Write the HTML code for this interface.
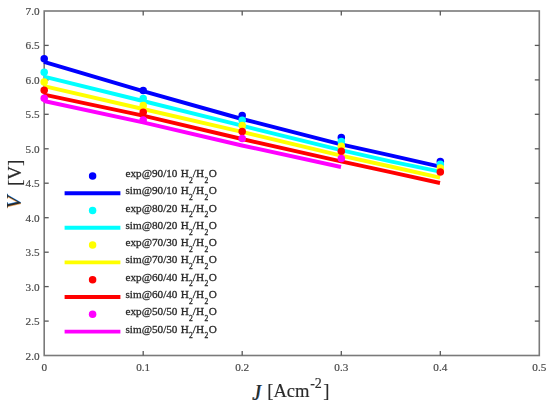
<!DOCTYPE html><html><head><meta charset="utf-8"><style>
html,body{margin:0;padding:0;background:#fff;width:550px;height:405px;overflow:hidden}
svg{display:block;position:absolute;left:0;top:0}
text{font-family:"Liberation Serif","Times New Roman",serif;stroke:#2a2a2a;stroke-width:0.3px;paint-order:stroke}
</style></head><body>
<svg width="550" height="405" viewBox="0 0 550 405">
<rect x="44.2" y="11.0" width="495.1" height="344.5" fill="none" stroke="#7a7a7a" stroke-width="1.6"/>
<line x1="143.2" y1="355.5" x2="143.2" y2="351.0" stroke="#585858" stroke-width="1.3"/>
<line x1="143.2" y1="11.0" x2="143.2" y2="15.5" stroke="#585858" stroke-width="1.3"/>
<line x1="242.2" y1="355.5" x2="242.2" y2="351.0" stroke="#585858" stroke-width="1.3"/>
<line x1="242.2" y1="11.0" x2="242.2" y2="15.5" stroke="#585858" stroke-width="1.3"/>
<line x1="341.3" y1="355.5" x2="341.3" y2="351.0" stroke="#585858" stroke-width="1.3"/>
<line x1="341.3" y1="11.0" x2="341.3" y2="15.5" stroke="#585858" stroke-width="1.3"/>
<line x1="440.3" y1="355.5" x2="440.3" y2="351.0" stroke="#585858" stroke-width="1.3"/>
<line x1="440.3" y1="11.0" x2="440.3" y2="15.5" stroke="#585858" stroke-width="1.3"/>
<line x1="44.2" y1="321.1" x2="48.7" y2="321.1" stroke="#585858" stroke-width="1.3"/>
<line x1="539.3" y1="321.1" x2="534.8" y2="321.1" stroke="#585858" stroke-width="1.3"/>
<line x1="44.2" y1="286.6" x2="48.7" y2="286.6" stroke="#585858" stroke-width="1.3"/>
<line x1="539.3" y1="286.6" x2="534.8" y2="286.6" stroke="#585858" stroke-width="1.3"/>
<line x1="44.2" y1="252.2" x2="48.7" y2="252.2" stroke="#585858" stroke-width="1.3"/>
<line x1="539.3" y1="252.2" x2="534.8" y2="252.2" stroke="#585858" stroke-width="1.3"/>
<line x1="44.2" y1="217.7" x2="48.7" y2="217.7" stroke="#585858" stroke-width="1.3"/>
<line x1="539.3" y1="217.7" x2="534.8" y2="217.7" stroke="#585858" stroke-width="1.3"/>
<line x1="44.2" y1="183.2" x2="48.7" y2="183.2" stroke="#585858" stroke-width="1.3"/>
<line x1="539.3" y1="183.2" x2="534.8" y2="183.2" stroke="#585858" stroke-width="1.3"/>
<line x1="44.2" y1="148.8" x2="48.7" y2="148.8" stroke="#585858" stroke-width="1.3"/>
<line x1="539.3" y1="148.8" x2="534.8" y2="148.8" stroke="#585858" stroke-width="1.3"/>
<line x1="44.2" y1="114.3" x2="48.7" y2="114.3" stroke="#585858" stroke-width="1.3"/>
<line x1="539.3" y1="114.3" x2="534.8" y2="114.3" stroke="#585858" stroke-width="1.3"/>
<line x1="44.2" y1="79.9" x2="48.7" y2="79.9" stroke="#585858" stroke-width="1.3"/>
<line x1="539.3" y1="79.9" x2="534.8" y2="79.9" stroke="#585858" stroke-width="1.3"/>
<line x1="44.2" y1="45.4" x2="48.7" y2="45.4" stroke="#585858" stroke-width="1.3"/>
<line x1="539.3" y1="45.4" x2="534.8" y2="45.4" stroke="#585858" stroke-width="1.3"/>
<circle cx="44.2" cy="58.7" r="3.75" fill="#0000ff"/>
<circle cx="143.2" cy="90.4" r="3.75" fill="#0000ff"/>
<circle cx="242.2" cy="115.5" r="3.75" fill="#0000ff"/>
<circle cx="341.3" cy="137.5" r="3.75" fill="#0000ff"/>
<circle cx="440.3" cy="161.5" r="3.75" fill="#0000ff"/>
<polyline points="44,61.9 143,91.2 242,119 341,144.3 390.5,155.4 440,166.6" fill="none" stroke="#0000ff" stroke-width="3.9" stroke-linejoin="round"/>
<circle cx="44.2" cy="72.2" r="3.75" fill="#00ffff"/>
<circle cx="143.2" cy="98.4" r="3.75" fill="#00ffff"/>
<circle cx="242.2" cy="120.2" r="3.75" fill="#00ffff"/>
<circle cx="341.3" cy="141.6" r="3.75" fill="#00ffff"/>
<circle cx="440.3" cy="164.3" r="3.75" fill="#00ffff"/>
<polyline points="44,76.6 143,101 242,125.7 341,150.1 390.5,161.3 440,171.6" fill="none" stroke="#00ffff" stroke-width="3.9" stroke-linejoin="round"/>
<circle cx="44.2" cy="81.9" r="3.75" fill="#ffff00"/>
<circle cx="143.2" cy="105.6" r="3.75" fill="#ffff00"/>
<circle cx="242.2" cy="125.6" r="3.75" fill="#ffff00"/>
<circle cx="341.3" cy="146.3" r="3.75" fill="#ffff00"/>
<circle cx="440.3" cy="168" r="3.75" fill="#ffff00"/>
<polyline points="44,86.1 143,109 242,131.8 341,155.6 390.5,166.5 440,177.6" fill="none" stroke="#ffff00" stroke-width="3.9" stroke-linejoin="round"/>
<circle cx="44.2" cy="90.2" r="3.75" fill="#ff0000"/>
<circle cx="143.2" cy="112.2" r="3.75" fill="#ff0000"/>
<circle cx="242.2" cy="131.4" r="3.75" fill="#ff0000"/>
<circle cx="341.3" cy="151.2" r="3.75" fill="#ff0000"/>
<circle cx="440.3" cy="171.9" r="3.75" fill="#ff0000"/>
<polyline points="44,94.6 143,115.7 242,139 341,161.3 390.5,172.2 440,183" fill="none" stroke="#ff0000" stroke-width="3.9" stroke-linejoin="round"/>
<circle cx="44.2" cy="98.2" r="3.75" fill="#ff00ff"/>
<circle cx="143.2" cy="120" r="3.75" fill="#ff00ff"/>
<circle cx="242.2" cy="138.6" r="3.75" fill="#ff00ff"/>
<circle cx="341.3" cy="158.4" r="3.75" fill="#ff00ff"/>
<polyline points="44,101 143,122.3 242,145.5 341,167" fill="none" stroke="#ff00ff" stroke-width="3.9" stroke-linejoin="round"/>
<circle cx="92.6" cy="175.9" r="3.75" fill="#0000ff"/>
<line x1="64.6" y1="193.2" x2="120.4" y2="193.2" stroke="#0000ff" stroke-width="3.9"/>
<text x="125.5" y="176.9" font-size="11.2" fill="#2a2a2a">exp@90/10<tspan x="180.8">H</tspan><tspan x="188.9" font-size="7.6" dy="5.7">2</tspan><tspan x="192.8" dy="-5.7">/H</tspan><tspan x="204.4" font-size="7.6" dy="5.7">2</tspan><tspan x="208.8" dy="-5.7">O</tspan></text>
<text x="125.5" y="194.2" font-size="11.2" fill="#2a2a2a">sim@90/10<tspan x="180.8">H</tspan><tspan x="188.9" font-size="7.6" dy="5.7">2</tspan><tspan x="192.8" dy="-5.7">/H</tspan><tspan x="204.4" font-size="7.6" dy="5.7">2</tspan><tspan x="208.8" dy="-5.7">O</tspan></text>
<circle cx="92.6" cy="210.5" r="3.75" fill="#00ffff"/>
<line x1="64.6" y1="227.8" x2="120.4" y2="227.8" stroke="#00ffff" stroke-width="3.9"/>
<text x="125.5" y="211.5" font-size="11.2" fill="#2a2a2a">exp@80/20<tspan x="180.8">H</tspan><tspan x="188.9" font-size="7.6" dy="5.7">2</tspan><tspan x="192.8" dy="-5.7">/H</tspan><tspan x="204.4" font-size="7.6" dy="5.7">2</tspan><tspan x="208.8" dy="-5.7">O</tspan></text>
<text x="125.5" y="228.8" font-size="11.2" fill="#2a2a2a">sim@80/20<tspan x="180.8">H</tspan><tspan x="188.9" font-size="7.6" dy="5.7">2</tspan><tspan x="192.8" dy="-5.7">/H</tspan><tspan x="204.4" font-size="7.6" dy="5.7">2</tspan><tspan x="208.8" dy="-5.7">O</tspan></text>
<circle cx="92.6" cy="245.1" r="3.75" fill="#ffff00"/>
<line x1="64.6" y1="262.4" x2="120.4" y2="262.4" stroke="#ffff00" stroke-width="3.9"/>
<text x="125.5" y="246.1" font-size="11.2" fill="#2a2a2a">exp@70/30<tspan x="180.8">H</tspan><tspan x="188.9" font-size="7.6" dy="5.7">2</tspan><tspan x="192.8" dy="-5.7">/H</tspan><tspan x="204.4" font-size="7.6" dy="5.7">2</tspan><tspan x="208.8" dy="-5.7">O</tspan></text>
<text x="125.5" y="263.4" font-size="11.2" fill="#2a2a2a">sim@70/30<tspan x="180.8">H</tspan><tspan x="188.9" font-size="7.6" dy="5.7">2</tspan><tspan x="192.8" dy="-5.7">/H</tspan><tspan x="204.4" font-size="7.6" dy="5.7">2</tspan><tspan x="208.8" dy="-5.7">O</tspan></text>
<circle cx="92.6" cy="279.7" r="3.75" fill="#ff0000"/>
<line x1="64.6" y1="297.0" x2="120.4" y2="297.0" stroke="#ff0000" stroke-width="3.9"/>
<text x="125.5" y="280.7" font-size="11.2" fill="#2a2a2a">exp@60/40<tspan x="180.8">H</tspan><tspan x="188.9" font-size="7.6" dy="5.7">2</tspan><tspan x="192.8" dy="-5.7">/H</tspan><tspan x="204.4" font-size="7.6" dy="5.7">2</tspan><tspan x="208.8" dy="-5.7">O</tspan></text>
<text x="125.5" y="298.0" font-size="11.2" fill="#2a2a2a">sim@60/40<tspan x="180.8">H</tspan><tspan x="188.9" font-size="7.6" dy="5.7">2</tspan><tspan x="192.8" dy="-5.7">/H</tspan><tspan x="204.4" font-size="7.6" dy="5.7">2</tspan><tspan x="208.8" dy="-5.7">O</tspan></text>
<circle cx="92.6" cy="314.3" r="3.75" fill="#ff00ff"/>
<line x1="64.6" y1="331.6" x2="120.4" y2="331.6" stroke="#ff00ff" stroke-width="3.9"/>
<text x="125.5" y="315.3" font-size="11.2" fill="#2a2a2a">exp@50/50<tspan x="180.8">H</tspan><tspan x="188.9" font-size="7.6" dy="5.7">2</tspan><tspan x="192.8" dy="-5.7">/H</tspan><tspan x="204.4" font-size="7.6" dy="5.7">2</tspan><tspan x="208.8" dy="-5.7">O</tspan></text>
<text x="125.5" y="332.6" font-size="11.2" fill="#2a2a2a">sim@50/50<tspan x="180.8">H</tspan><tspan x="188.9" font-size="7.6" dy="5.7">2</tspan><tspan x="192.8" dy="-5.7">/H</tspan><tspan x="204.4" font-size="7.6" dy="5.7">2</tspan><tspan x="208.8" dy="-5.7">O</tspan></text>
<text x="44.2" y="370.5" font-size="11.2" fill="#4a4a4a" style="stroke:#4a4a4a;stroke-width:0.2px" text-anchor="middle">0</text>
<text x="143.2" y="370.5" font-size="11.2" fill="#4a4a4a" style="stroke:#4a4a4a;stroke-width:0.2px" text-anchor="middle">0.1</text>
<text x="242.2" y="370.5" font-size="11.2" fill="#4a4a4a" style="stroke:#4a4a4a;stroke-width:0.2px" text-anchor="middle">0.2</text>
<text x="341.3" y="370.5" font-size="11.2" fill="#4a4a4a" style="stroke:#4a4a4a;stroke-width:0.2px" text-anchor="middle">0.3</text>
<text x="440.3" y="370.5" font-size="11.2" fill="#4a4a4a" style="stroke:#4a4a4a;stroke-width:0.2px" text-anchor="middle">0.4</text>
<text x="539.3" y="370.5" font-size="11.2" fill="#4a4a4a" style="stroke:#4a4a4a;stroke-width:0.2px" text-anchor="middle">0.5</text>
<text x="39.6" y="359.5" font-size="11.2" fill="#4a4a4a" style="stroke:#4a4a4a;stroke-width:0.2px" text-anchor="end">2.0</text>
<text x="39.6" y="325.1" font-size="11.2" fill="#4a4a4a" style="stroke:#4a4a4a;stroke-width:0.2px" text-anchor="end">2.5</text>
<text x="39.6" y="290.6" font-size="11.2" fill="#4a4a4a" style="stroke:#4a4a4a;stroke-width:0.2px" text-anchor="end">3.0</text>
<text x="39.6" y="256.1" font-size="11.2" fill="#4a4a4a" style="stroke:#4a4a4a;stroke-width:0.2px" text-anchor="end">3.5</text>
<text x="39.6" y="221.7" font-size="11.2" fill="#4a4a4a" style="stroke:#4a4a4a;stroke-width:0.2px" text-anchor="end">4.0</text>
<text x="39.6" y="187.2" font-size="11.2" fill="#4a4a4a" style="stroke:#4a4a4a;stroke-width:0.2px" text-anchor="end">4.5</text>
<text x="39.6" y="152.8" font-size="11.2" fill="#4a4a4a" style="stroke:#4a4a4a;stroke-width:0.2px" text-anchor="end">5.0</text>
<text x="39.6" y="118.3" font-size="11.2" fill="#4a4a4a" style="stroke:#4a4a4a;stroke-width:0.2px" text-anchor="end">5.5</text>
<text x="39.6" y="83.9" font-size="11.2" fill="#4a4a4a" style="stroke:#4a4a4a;stroke-width:0.2px" text-anchor="end">6.0</text>
<text x="39.6" y="49.4" font-size="11.2" fill="#4a4a4a" style="stroke:#4a4a4a;stroke-width:0.2px" text-anchor="end">6.5</text>
<text x="39.6" y="15.0" font-size="11.2" fill="#4a4a4a" style="stroke:#4a4a4a;stroke-width:0.2px" text-anchor="end">7.0</text>
<text transform="translate(251.70000000000002,399.6) scale(1,1.2)" font-size="19.5" font-style="italic" fill="#f0a050" style="stroke:none">J</text>
<text transform="translate(252.9,399.6) scale(1,1.2)" font-size="19.5" font-style="italic" fill="#3a9cff" style="stroke:none">J</text>
<text transform="translate(252.3,399.6) scale(1,1.2)" font-size="19.5" font-style="italic" fill="#2a2a2a" style="stroke:none">J</text>
<text x="267.2" y="396.5" font-size="18.6" fill="#2a2a2a" style="stroke-width:0.15px;stroke:#2a2a2a">[Acm<tspan font-size="14" dy="-8.5" x="310.2">-2</tspan><tspan dy="8.5" x="323.2">]</tspan></text>
<text transform="translate(20.6,209.4) rotate(-90)" font-size="21" font-style="italic" fill="#f0a050" style="stroke:none">V</text>
<text transform="translate(20.6,208.20000000000002) rotate(-90)" font-size="21" font-style="italic" fill="#3a9cff" style="stroke:none">V</text>
<text transform="translate(20.6,208.8) rotate(-90)" font-size="21" font-style="italic" fill="#2a2a2a" style="stroke:none">V</text>
<text transform="translate(20.5,186) rotate(-90)" font-size="19" fill="#2a2a2a" style="stroke-width:0.15px;stroke:#2a2a2a">[V]</text>
</svg></body></html>
